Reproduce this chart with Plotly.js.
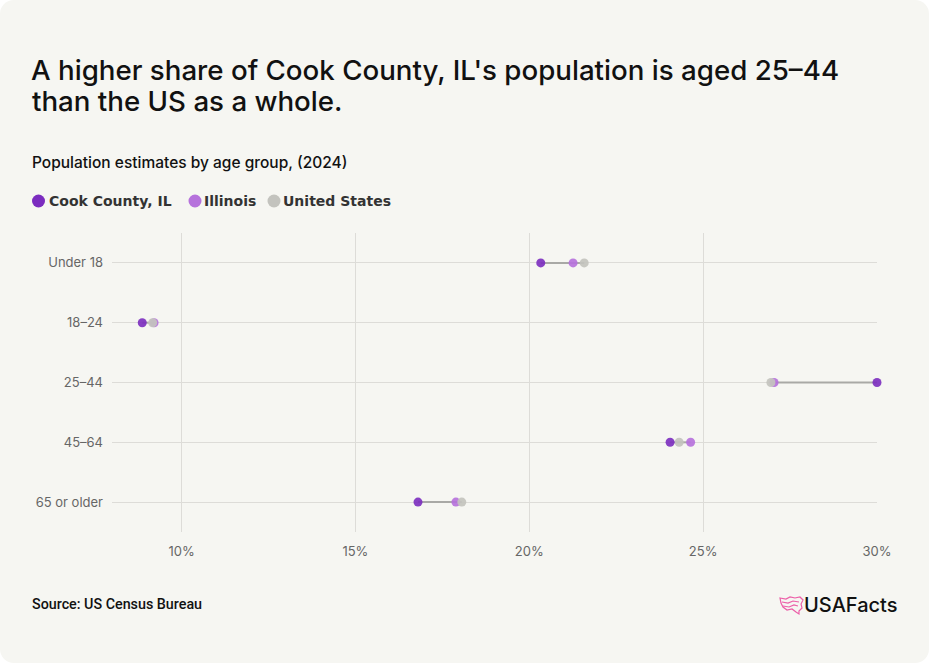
<!DOCTYPE html>
<html>
<head>
<meta charset="utf-8">
<script src="https://cdn.plot.ly/plotly-3.0.1.min.js"></script>
<style>
  html, body { margin: 0; padding: 0; background: #ffffff; }
  #card { width: 929px; height: 663px; background: #f6f6f2; border-radius: 14px; overflow: hidden; }
  #chart { width: 929px; height: 663px; }
</style>
</head>
<body>
<div id="card"><div id="chart"></div></div>
<script>
// ---- Data (percent of population) ----
const ageGroups    = ["Under 18", "18–24", "25–44", "45–64", "65 or older"];
const cookCounty   = [20.33, 8.87, 30.0, 24.05, 16.80];
const illinois     = [21.26, 9.21, 27.04, 24.64, 17.89];
const unitedStates = [21.58, 9.17, 26.95, 24.31, 18.06];
const xTickVals    = [10, 15, 20, 25, 30];
const xTickText    = ["10%", "15%", "20%", "25%", "30%"];

const seriesNames  = ["Cook County, IL", "Illinois", "United States"];
const seriesColors = ["#7b2cbf", "#b672dc", "#c3c3be"];

// connector lines from min to max for each age group
const lineX = [], lineY = [];
ageGroups.forEach((g, i) => {
  const vals = [cookCounty[i], illinois[i], unitedStates[i]];
  lineX.push(Math.min(...vals), Math.max(...vals), null);
  lineY.push(g, g, null);
});

const FONT = "Inter, 'Noto Sans', sans-serif";
const W = 929, H = 663;
const L = 112, R = 52, T = 233, B = 131;
const PW = W - L - R, PH = H - T - B;
const px = v => (v - L) / PW;          // pixel x -> paper x
const py = v => (H - B - v) / PH;      // pixel y -> paper y

const traces = [
  {
    x: lineX, y: lineY, type: "scatter", mode: "lines",
    line: { color: "#a9a9a6", width: 2 }, showlegend: false, hoverinfo: "skip", cliponaxis: false
  },
  {
    x: illinois, y: ageGroups, type: "scatter", mode: "markers", name: seriesNames[1],
    marker: { color: seriesColors[1], size: 9, opacity: 0.92 }, showlegend: false, cliponaxis: false
  },
  {
    x: unitedStates, y: ageGroups, type: "scatter", mode: "markers", name: seriesNames[2],
    marker: { color: seriesColors[2], size: 9, opacity: 0.92 }, showlegend: false, cliponaxis: false
  },
  {
    x: cookCounty, y: ageGroups, type: "scatter", mode: "markers", name: seriesNames[0],
    marker: { color: seriesColors[0], size: 9, opacity: 0.9 }, showlegend: false, cliponaxis: false
  }
];

// custom legend (circle + label) laid out from the series arrays
const legendCircleX = [38.5, 195, 274];
const legendTextX   = [47, 202, 281];
const legendY = 201;
const legendShapes = seriesNames.map((n, i) => ({
  type: "circle", xref: "paper", yref: "paper",
  xsizemode: "pixel", ysizemode: "pixel",
  xanchor: px(legendCircleX[i]), yanchor: py(legendY),
  x0: -6.5, x1: 6.5, y0: -6.5, y1: 6.5,
  fillcolor: seriesColors[i], line: { width: 0 }
}));
const legendAnn = seriesNames.map((n, i) => ({
  text: n, xref: "paper", yref: "paper",
  x: px(legendTextX[i]), xanchor: "left", y: py(legendY), yanchor: "middle",
  showarrow: false, font: { family: "'DejaVu Sans', sans-serif", size: 14, color: "#333333", weight: 700 }
}));

// Rough logo outline (decorative)
const lp = (pts) => "M " + pts.map(p => px(p[0]).toFixed(4) + " " + py(p[1]).toFixed(4)).join(" L ");
const logoOutline = lp([[780,598],[786,599],[790,597],[795,598],[800,597],[803,600],[801,604],[802,608],[799,611],[799,614],[796,612],[792,609],[787,610],[783,607],[781,603]]) + " Z";
const logoInner1 = lp([[782,602],[788,603],[793,601],[799,602]]);
const logoInner2 = lp([[783,606],[789,607],[794,605],[798,606]]);

const layout = {
  width: W, height: H,
  paper_bgcolor: "rgba(0,0,0,0)", plot_bgcolor: "rgba(0,0,0,0)",
  margin: { l: L, r: R, t: T, b: B, pad: 0 },
  font: { family: FONT, color: "#666666", size: 13 },
  title: {
    text: "A higher share of Cook County, IL's population is aged 25–44",
    x: 31 / W, xref: "container", xanchor: "left",
    y: 1 - 70 / H, yref: "container", yanchor: "middle",
    font: { family: FONT, size: 27.7, color: "#111111", weight: 500 }
  },
  xaxis: {
    range: [8, 30], tickvals: xTickVals, ticktext: xTickText,
    showgrid: true, gridcolor: "#dddcd8", gridwidth: 1,
    zeroline: false, showline: false, ticks: "", ticklabelstandoff: 10,
    tickfont: { size: 13, color: "#666666" }, fixedrange: true
  },
  yaxis: {
    type: "category", categoryorder: "array", categoryarray: ageGroups,
    autorange: false, range: [4.5, -0.5],
    showgrid: true, gridcolor: "#dddcd8", gridwidth: 1,
    zeroline: false, showline: false, ticks: "", ticklabelstandoff: 8,
    tickfont: { size: 13, color: "#666666" }, fixedrange: true
  },
  showlegend: false,
  annotations: [
    {
      text: "than the US as a whole.", xref: "paper", yref: "paper",
      x: px(30), xanchor: "left", y: py(101), yanchor: "middle",
      showarrow: false, font: { family: FONT, size: 27.7, color: "#111111", weight: 500 }
    },
    {
      text: "Population estimates by age group, (2024)", xref: "paper", yref: "paper",
      x: px(30), xanchor: "left", y: py(162), yanchor: "middle",
      showarrow: false, font: { family: FONT, size: 15.5, color: "#111111", weight: 500 }
    },
    {
      text: "Source: US Census Bureau", xref: "paper", yref: "paper",
      x: px(30), xanchor: "left", y: py(604), yanchor: "middle",
      showarrow: false, font: { family: "Roboto, sans-serif", size: 14.3, color: "#111111", weight: 500 }
    },
    {
      text: "USAFacts", xref: "paper", yref: "paper",
      x: px(899), xanchor: "right", y: py(605), yanchor: "middle",
      showarrow: false, font: { family: FONT, size: 20, color: "#111111", weight: 500 }
    }
  ].concat(legendAnn),
  shapes: [
    { type: "path", xref: "paper", yref: "paper", path: logoOutline, line: { color: "#ec5fa8", width: 1.2 }, fillcolor: "rgba(0,0,0,0)" },
    { type: "path", xref: "paper", yref: "paper", path: logoInner1, line: { color: "#ec5fa8", width: 1.2 } },
    { type: "path", xref: "paper", yref: "paper", path: logoInner2, line: { color: "#ec5fa8", width: 1.2 } }
  ].concat(legendShapes)
};

Plotly.newPlot("chart", traces, layout, { displayModeBar: false, staticPlot: true });
</script>
</body>
</html>
